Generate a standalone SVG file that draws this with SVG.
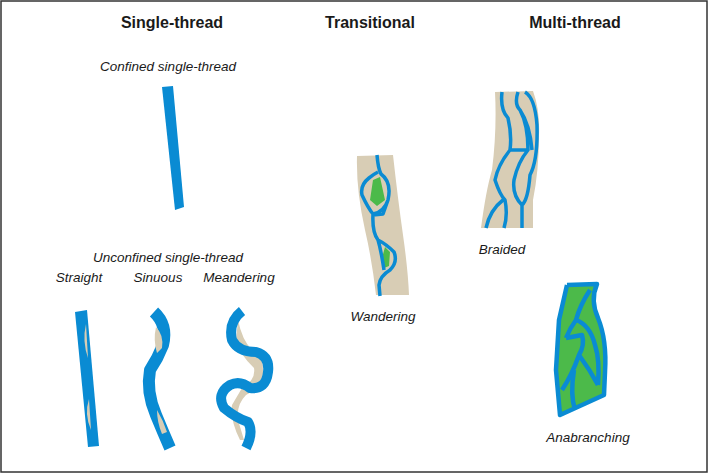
<svg xmlns="http://www.w3.org/2000/svg" width="709" height="474" viewBox="0 0 709 474">
<style>
.h{font-family:"Liberation Sans",Arial,sans-serif;font-weight:bold;font-size:16px;fill:#1a1a1a;text-anchor:middle}
.l{font-family:"Liberation Sans",Arial,sans-serif;font-style:italic;font-size:13.5px;fill:#1a1a1a;text-anchor:middle}
.w{stroke:#0a8bd3;fill:none;stroke-linejoin:round}
.bar{fill:#d8cdb5}
.isl{fill:#4cba4a}
</style>
<rect x="1" y="1" width="706" height="471" fill="#fff" stroke="#333" stroke-width="1.5"/>
<text class="h" x="172" y="28">Single-thread</text>
<text class="h" x="370" y="28">Transitional</text>
<text class="h" x="575" y="28">Multi-thread</text>
<g id="confined">
<text class="l" x="168" y="71">Confined single-thread</text>
<polygon points="162,87 173,86 184,207 175,210" fill="#0a8bd3"/>
</g>
<text class="l" x="168" y="262">Unconfined single-thread</text>
<g id="straight">
<text class="l" x="79" y="282">Straight</text>
<polygon points="75,312 87,310 99,446 88,447" fill="#0a8bd3"/>
<path class="bar" d="M86,324 Q82,341 88,358 Z M89,399 Q84,414 91,430 Z"/>
</g>
<g id="sinuous">
<text class="l" x="158" y="282">Sinuous</text>
<path class="w" stroke-width="12" d="M154,312 Q168,325 163,345 Q158,358 150,370 Q146,392 156,415 Q163,432 170,448"/>
<path class="bar" d="M156,327 Q164,335 162,348 L157,353 Q153,340 156,327 Z M157,410 Q163,420 167,432 L162,434 Q157,422 157,410 Z"/>
</g>
<g id="meandering">
<text class="l" x="239" y="282">Meandering</text>
<path class="bar" d="M238,320 Q242,340 252,350 L262,360 Q266,385 255,390 L246,395 Q236,405 238,420 L244,440 L240,440 Q230,420 232,405 L242,388 Q256,380 254,368 Q240,355 236,340 Z"/>
<path class="w" stroke-width="10" d="M242,311 Q228,322 232,340 Q238,352 256,352 Q270,356 268,372 Q266,390 250,388 Q240,380 230,385 Q216,394 224,408 Q236,418 248,422 Q254,432 246,448"/>
</g>
<g id="wandering">
<path class="bar" d="M357,156 L393,155 Q398,200 403,235 Q408,270 409,295 L376,295 Q372,260 365,230 Q356,190 357,156 Z"/>
<path class="isl" d="M373,180 L380,177 L385,200 L377,206 L370,200 Z M385,247 L390,252 L389,266 L384,268 L382,258 Z"/>
<path class="w" stroke-width="3.5" d="M377,155 Q378,168 381,174 Q392,182 388,200 Q384,212 373,214 Q368,208 362,195 Q360,185 369,178 Q374,174 378,172 M373,214 Q372,232 378,240 Q386,244 394,252 Q398,262 390,270 Q380,276 379,285 L380,296 M388,200 L383,214 L373,215 M378,240 Q381,250 384,270"/>
<text class="l" x="383" y="321">Wandering</text>
</g>
<g id="braided">
<path class="bar" d="M495,92 L533,91 Q540,110 539,135 Q539,170 533,200 L533,228 L481,228 Q486,190 492,170 Q497,130 495,92 Z"/>
<path class="w" stroke-width="3.5" d="M502,92 Q500,110 508,118 Q512,135 510,150 Q498,165 495,180 Q500,195 505,200 Q508,215 504,228 M518,92 Q514,104 520,110 Q528,125 528,150 Q518,162 514,180 Q512,195 522,205 L522,228 M510,150 L528,150 M503,200 Q490,210 486,228 M525,92 Q535,98 537,125 Q538,160 530,175 Q528,200 522,205 M520,110 Q530,125 532,150"/>
<text class="l" x="502" y="254">Braided</text>
</g>
<g id="anabranching">
<path class="isl" d="M567,285 L597,284 Q590,300 598,318 Q607,340 605,372 L604,395 L560,415 L556,370 L559,320 Z"/>
<path class="w" stroke-width="4.5" d="M567,285 L597,284 Q590,300 598,318 Q607,340 605,372 L604,395 L560,415 L556,370 L559,320 L567,285 M590,290 Q580,305 576,320 Q570,328 566,338 M576,320 Q590,325 595,345 Q600,360 598,385 M566,338 L582,335 Q585,345 579,355 Q572,375 562,390 M579,355 Q590,370 598,385 M574,370 Q570,395 575,410"/>
<text class="l" x="588" y="442">Anabranching</text>
</g>
</svg>
